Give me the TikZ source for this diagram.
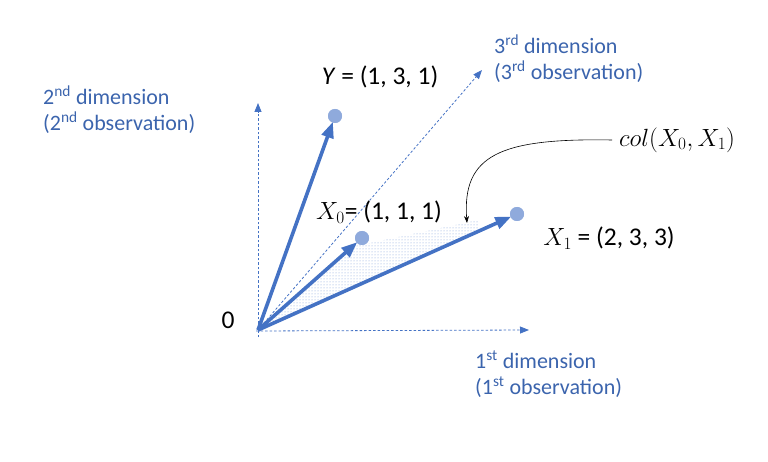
\documentclass[tikz,border=0pt]{standalone}
\usepackage{fontspec}
\setmainfont{Carlito}
\usetikzlibrary{arrows.meta,patterns}
\definecolor{vblue}{HTML}{4472C4}
\definecolor{tblue}{HTML}{3B64AD}
\definecolor{dblue}{HTML}{8FAADC}
\begin{document}
\begin{tikzpicture}[x=1pt,y=-1pt,
  axis/.style={vblue,line width=0.8pt,dash pattern=on 2.5pt off 2pt,-{Triangle[length=9pt,width=7pt]}},
  vec/.style={vblue,line width=3.6pt,-{Triangle[length=16pt,width=12pt]},shorten >=-1pt},
  dot/.style={circle,fill=dblue,inner sep=0pt,minimum size=14pt},
  lbl/.style={font=\fontsize{25.5}{30}\selectfont,inner sep=0pt},
  dimlbl/.style={tblue,font=\fontsize{22}{26}\selectfont,align=left,inner sep=0pt,anchor=north west}]
\useasboundingbox (0,0) rectangle (768,462);
\coordinate (O) at (258,330);
\coordinate (Ob) at (258,337);
\coordinate (Ol) at (256,331);
\coordinate (Ax1) at (529,330);
\coordinate (Ax2) at (258,103);
\coordinate (Ax3) at (482,70);
\coordinate (P1) at (356,246);
\coordinate (P2) at (479,220);
\coordinate (P3) at (479,231);
\fill[pattern=dots,pattern color=vblue!70] (O) -- (P1) -- (P2) -- (P3) -- cycle;
\draw[axis] (Ol) -- (Ax1);
\draw[axis] (Ob) -- (Ax2);
\draw[axis] (O) -- (Ax3);
\node[dot] (Y) at (335,116) {};
\node[dot] (X0) at (362,238) {};
\node[dot] (X1) at (517,214) {};
\draw[vec] (O) -- (Y);
\draw[vec] (O) -- (X0);
\draw[vec] (O) -- (X1);
\node[dot] at (Y) {};
\node[dot] at (X0) {};
\node[dot] at (X1) {};
\node[lbl] (Ylbl) at (380,77) {\textit{Y} = (1, 3, 1)};
\node[lbl] (X0lbl) at (379,212) {$X_0$= (1, 1, 1)};
\node[lbl] (X1lbl) at (609,238) {$X_1$ = (2, 3, 3)};
\node[lbl,anchor=west,inner xsep=7pt] (col) at (612,140) {$col(X_0,X_1)$};
\node[lbl] (zero) at (228,320) {0};
\coordinate (tip) at (467,223);
\draw[black,line width=0.6pt,-{Stealth[length=7pt,width=5pt]}] (col.west) .. controls (500,138) and (462,155) .. (tip);
\node[dimlbl] (d2) at (43,86) {2\textsuperscript{nd} dimension\\(2\textsuperscript{nd} observation)};
\node[dimlbl] (d3) at (494,35) {3\textsuperscript{rd} dimension\\(3\textsuperscript{rd} observation)};
\node[dimlbl] (d1) at (475,351) {1\textsuperscript{st} dimension\\(1\textsuperscript{st} observation)};
\end{tikzpicture}
\end{document}
